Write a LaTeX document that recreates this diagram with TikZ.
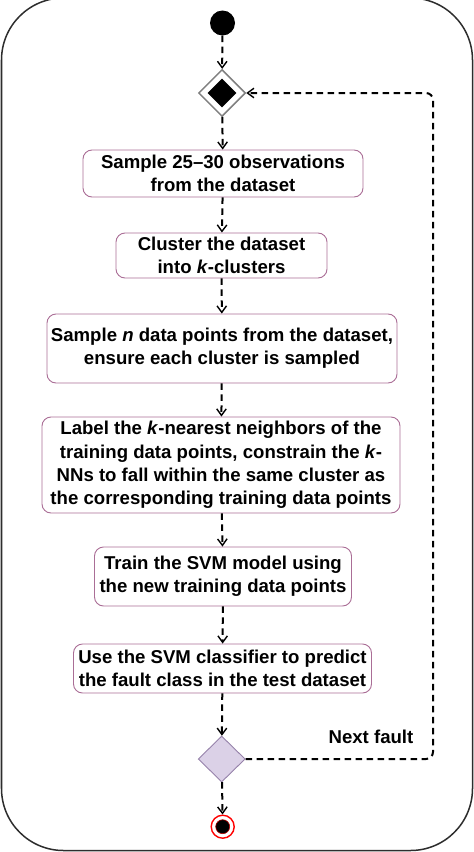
\documentclass[tikz,border=0pt]{standalone}
\usepackage{fontspec}
\setmainfont{Liberation Sans}
\usetikzlibrary{shapes.geometric,arrows.meta}
\definecolor{boxline}{RGB}{170,110,150}
\definecolor{mergefill}{RGB}{219,209,231}
\definecolor{mergeline}{RGB}{150,130,170}
\definecolor{frameline}{RGB}{45,45,45}

\begin{document}
\begin{tikzpicture}[%
      x=1bp, y=-1bp,
      txt/.style={font=\fontsize{18.6bp}{23.3bp}\selectfont\bfseries},
      actbox/.style={txt, draw=boxline, line width=0.9bp, fill=white,
        rounded corners=9bp, align=center, inner sep=1bp},
      flow/.style={draw=black, line width=2bp, dash pattern=on 6.5bp off 4.5bp,
        -{Straight Barb[length=6.5bp,width=9.5bp,line width=1.4bp]}},
      ]
      \clip (0,0) rectangle (474,852);
      \draw [frameline, line width=1.5bp, rounded corners=62bp] (1.5,-2) rectangle (472.5,850.5);

      % start and first merge
      \node [circle, fill=black, minimum size=25bp, inner sep=0] (start) at (222.5,23) {};
      \node [diamond, draw=gray, line width=1.5bp, fill=white, minimum width=47bp,
        minimum height=47bp, inner sep=0] (dtop) at (222,93) {};
      \node [diamond, fill=black, minimum width=29bp, minimum height=29bp, inner sep=0]
        (dtopin) at (222,93) {};

      % activities
      \node [actbox, minimum width=280bp, minimum height=47bp] (sample) at (223,173.5)
        {Sample 25--30 observations\\from the dataset};
      \node [actbox, minimum width=211bp, minimum height=45bp] (cluster) at (221.5,255.5)
        {Cluster the dataset\\into \textit{k}-clusters};
      \node [actbox, minimum width=350bp, minimum height=69bp] (pick) at (222,348.5)
        {Sample \textit{n} data points from the dataset,\\ensure each cluster is sampled};
      \node [actbox, minimum width=358bp, minimum height=96bp] (knn) at (221,465)
        {Label the \textit{k}-nearest neighbors of the\\training data points, constrain the \textit{k}-\\NNs to fall within the same cluster as\\the corresponding training data points};
      \node [actbox, minimum width=257bp, minimum height=59bp] (train) at (223,576.5)
        {Train the SVM model using\\the new training data points};
      \node [actbox, minimum width=298bp, minimum height=49bp] (predict) at (222.5,668.5)
        {Use the SVM classifier to predict\\the fault class in the test dataset};

      % decision and end
      \node [diamond, draw=mergeline, line width=0.9bp, fill=mergefill, minimum width=47bp,
        minimum height=46bp, inner sep=0] (dbot) at (221.7,759) {};
      \node [circle, draw=red, line width=1.4bp, fill=white, minimum size=23bp, inner sep=0]
        (stop) at (222.7,826.7) {};
      \node [circle, draw=red!70!black, line width=0.6bp, fill=black, minimum size=14bp,
        inner sep=0] (stopin) at (222.7,826.7) {};

      \node [txt] (nextlbl) at (371,737) {Next fault};
      \coordinate (loopb) at (433,759);
      \coordinate (loopt) at (433,93);

      % connectors
      \draw [flow] (start) -- (dtop);
      \draw [flow] (dtop) -- (sample);
      \draw [flow] (sample) -- (cluster);
      \draw [flow] (cluster) -- (pick);
      \draw [flow] (pick) -- (knn);
      \draw [flow] (knn) -- (train);
      \draw [flow] (train) -- (predict);
      \draw [flow] (predict) -- (dbot);
      \draw [flow] (dbot) -- (stop);
      \draw [flow, rounded corners=7bp] (dbot.east) -- (loopb) -- (loopt) -- (dtop.east);
      \end{tikzpicture}
\end{document}
